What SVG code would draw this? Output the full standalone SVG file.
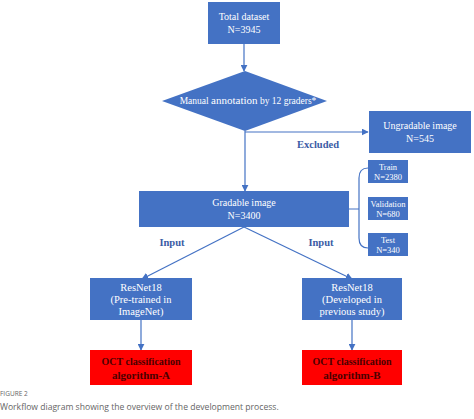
<svg xmlns="http://www.w3.org/2000/svg" width="474" height="419" viewBox="0 0 474 419">
<style>
.box{fill:#4472C4;}
.red{fill:#FF0000;}
.t{font-family:"Liberation Serif","Times New Roman",serif;fill:#ffffff;text-anchor:middle;}
.lbl{font-family:"Liberation Serif",serif;fill:#3B5BA5;font-weight:bold;font-size:10.5px;text-anchor:middle;}
.rt{font-family:"Liberation Serif",serif;fill:#4a0000;font-weight:bold;text-anchor:middle;}
.ln{stroke:#4472C4;stroke-width:1.2;fill:none;}
.cap{font-family:"Open Sans","Liberation Sans",sans-serif;fill:#666666;}
</style>
<defs>
<marker id="ah" viewBox="0 0 10 10" refX="9" refY="5" markerWidth="7" markerHeight="7" orient="auto" markerUnits="userSpaceOnUse">
<path d="M0,0 L10,5 L0,10 z" fill="#4472C4"/>
</marker>
</defs>
<rect width="474" height="419" fill="#ffffff"/>
<g id="connectors">
<line class="ln" x1="244" y1="44" x2="244" y2="71" marker-end="url(#ah)"/>
<line class="ln" x1="245" y1="131" x2="245" y2="191" marker-end="url(#ah)"/>
<polyline class="ln" points="245,132 368,132" marker-end="url(#ah)"/>
<line class="ln" x1="244" y1="227" x2="142" y2="279" marker-end="url(#ah)"/>
<line class="ln" x1="244" y1="227" x2="352" y2="279" marker-end="url(#ah)"/>
<line class="ln" x1="141" y1="320" x2="141" y2="350" marker-end="url(#ah)"/>
<line class="ln" x1="352" y1="320" x2="352" y2="350" marker-end="url(#ah)"/>
<path class="ln" d="M349,209 L359,209 M368,168 Q359,168 359,178 L359,238 Q359,248 368,248"/>
<text class="lbl" x="318" y="148">Excluded</text>
<text class="lbl" x="172" y="246">Input</text>
<text class="lbl" x="321" y="246">Input</text>
</g>
<g id="total">
<rect class="box" x="208" y="2" width="72" height="42"/>
<text class="t" font-size="10" x="244" y="20">Total dataset</text>
<text class="t" font-size="10" x="244" y="33">N=3945</text>
</g>
<g id="annotation">
<polygon class="box" points="245,71 327,101 245,131 162,101"/>
<text class="t" font-size="9.5" x="248" y="104"><tspan>Manual </tspan><tspan font-size="11">annotation</tspan><tspan> by 12 graders*</tspan></text>
</g>
<g id="ungradable">
<rect class="box" x="369" y="111" width="102" height="42"/>
<text class="t" font-size="10" x="420" y="129">Ungradable image</text>
<text class="t" font-size="10" x="420" y="142">N=545</text>
</g>
<g id="gradable">
<rect class="box" x="139" y="191" width="210" height="36"/>
<text class="t" font-size="10" x="244" y="206">Gradable image</text>
<text class="t" font-size="10" x="244" y="219">N=3400</text>
</g>
<g id="train">
<rect class="box" x="368" y="160" width="40" height="23"/>
<text class="t" font-size="8.5" x="388" y="170">Train</text>
<text class="t" font-size="8.5" x="388" y="180">N=2380</text>
</g>
<g id="validation">
<rect class="box" x="368" y="197" width="40" height="23"/>
<text class="t" font-size="8.5" x="388" y="207">Validation</text>
<text class="t" font-size="8.5" x="388" y="217">N=680</text>
</g>
<g id="test">
<rect class="box" x="368" y="233" width="40" height="23"/>
<text class="t" font-size="8.5" x="388" y="243">Test</text>
<text class="t" font-size="8.5" x="388" y="253">N=340</text>
</g>
<g id="resnetA">
<rect class="box" x="90" y="278" width="102" height="42"/>
<text class="t" font-size="10.5" x="141" y="291">ResNet18</text>
<text class="t" font-size="10.5" x="141" y="303">(Pre-trained in</text>
<text class="t" font-size="10.5" x="141" y="315">ImageNet)</text>
</g>
<g id="resnetB">
<rect class="box" x="302" y="278" width="100" height="42"/>
<text class="t" font-size="10.5" x="352" y="291">ResNet18</text>
<text class="t" font-size="10.5" x="352" y="303">(Developed in</text>
<text class="t" font-size="10.5" x="352" y="315">previous study)</text>
</g>
<g id="algA">
<rect class="red" x="90" y="350" width="102" height="35"/>
<text class="rt" font-size="10" x="141" y="365">OCT classification</text>
<text class="rt" font-size="11" x="141" y="379">algorithm-A</text>
</g>
<g id="algB">
<rect class="red" x="302" y="350" width="100" height="35"/>
<text class="rt" font-size="10" x="352" y="365">OCT classification</text>
<text class="rt" font-size="11" x="352" y="379">algorithm-B</text>
</g>
<text class="cap" font-size="6.5" x="0" y="396">FIGURE 2</text>
<text class="cap" font-size="8.6" x="0" y="410">Workflow diagram showing the overview of the development process.</text>
</svg>
